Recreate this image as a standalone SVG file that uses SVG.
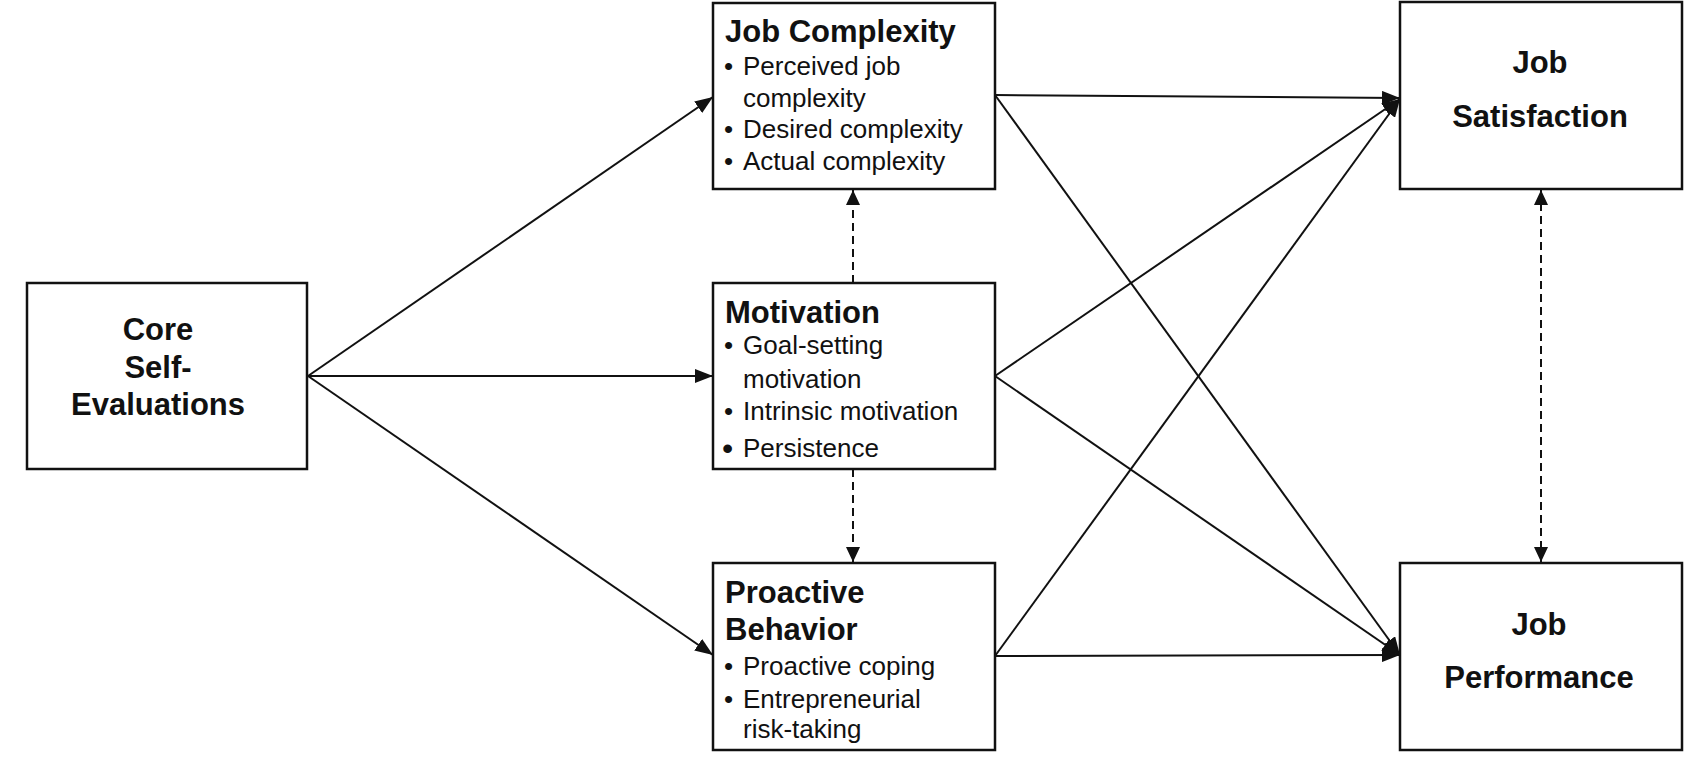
<svg xmlns="http://www.w3.org/2000/svg" width="1702" height="762" viewBox="0 0 1702 762">
  <style>
    .box { fill: #ffffff; stroke: #111111; stroke-width: 2.5; }
    .title { font-family: "Liberation Sans", Arial, sans-serif; font-weight: bold; font-size: 31px; fill: #111111; }
    .item { font-family: "Liberation Sans", Arial, sans-serif; font-size: 26px; fill: #111111; }
    .conn { stroke: #111111; stroke-width: 2; fill: none; }
    .dash { stroke-dasharray: 8 5; }
  </style>
  <defs>
    <marker id="arrow" viewBox="0 0 18 14" refX="18" refY="7" markerWidth="18" markerHeight="14" markerUnits="userSpaceOnUse" orient="auto">
      <path d="M0,0 L18,7 L0,14 z" fill="#111111"/>
    </marker>
    <marker id="arrowSmall" viewBox="0 0 15 14" refX="15" refY="7" markerWidth="15" markerHeight="14" markerUnits="userSpaceOnUse" orient="auto-start-reverse">
      <path d="M0,0 L15,7 L0,14 z" fill="#111111"/>
    </marker>
  </defs>
  <rect width="1702" height="762" fill="#ffffff"/>

  <g id="connectors">
    <line class="conn" x1="308" y1="376" x2="713" y2="97" marker-end="url(#arrow)"/>
    <line class="conn" x1="308" y1="376" x2="713" y2="376" marker-end="url(#arrow)"/>
    <line class="conn" x1="308" y1="376" x2="713" y2="655" marker-end="url(#arrow)"/>
    <line class="conn dash" x1="853" y1="283" x2="853" y2="190" marker-end="url(#arrowSmall)"/>
    <line class="conn dash" x1="853" y1="469" x2="853" y2="562" marker-end="url(#arrowSmall)"/>
    <line class="conn" x1="995" y1="95" x2="1400" y2="98" marker-end="url(#arrow)"/>
    <line class="conn" x1="995" y1="95" x2="1400" y2="655" marker-end="url(#arrow)"/>
    <line class="conn" x1="995" y1="376" x2="1400" y2="99" marker-end="url(#arrow)"/>
    <line class="conn" x1="995" y1="376" x2="1400" y2="655" marker-end="url(#arrow)"/>
    <line class="conn" x1="995" y1="656" x2="1400" y2="99" marker-end="url(#arrow)"/>
    <line class="conn" x1="995" y1="656" x2="1400" y2="655" marker-end="url(#arrow)"/>
    <line class="conn dash" x1="1541" y1="190" x2="1541" y2="562" marker-start="url(#arrowSmall)" marker-end="url(#arrowSmall)"/>
  </g>

  <g id="core">
    <rect class="box" x="27" y="283" width="280" height="186"/>
    <text class="title" x="158" y="340" text-anchor="middle">Core</text>
    <text class="title" x="158" y="378" text-anchor="middle">Self-</text>
    <text class="title" x="158" y="415" text-anchor="middle">Evaluations</text>
  </g>

  <g id="job-complexity">
    <rect class="box" x="713" y="3" width="282" height="186"/>
    <text class="title" x="725" y="42">Job Complexity</text>
    <text class="item" x="724" y="75">•</text>
    <text class="item" x="743" y="75">Perceived job</text>
    <text class="item" x="743" y="107">complexity</text>
    <text class="item" x="724" y="138">•</text>
    <text class="item" x="743" y="138">Desired complexity</text>
    <text class="item" x="724" y="170">•</text>
    <text class="item" x="743" y="170">Actual complexity</text>
  </g>

  <g id="motivation">
    <rect class="box" x="713" y="283" width="282" height="186"/>
    <text class="title" x="725" y="323">Motivation</text>
    <text class="item" x="724" y="354">•</text>
    <text class="item" x="743" y="354">Goal-setting</text>
    <text class="item" x="743" y="388">motivation</text>
    <text class="item" x="724" y="420">•</text>
    <text class="item" x="743" y="420">Intrinsic motivation</text>
    <text class="item" x="722" y="459" style="font-size:32px">•</text>
    <text class="item" x="743" y="457">Persistence</text>
  </g>

  <g id="proactive-behavior">
    <rect class="box" x="713" y="563" width="282" height="187"/>
    <text class="title" x="725" y="603">Proactive</text>
    <text class="title" x="725" y="640">Behavior</text>
    <text class="item" x="724" y="675">•</text>
    <text class="item" x="743" y="675">Proactive coping</text>
    <text class="item" x="724" y="708">•</text>
    <text class="item" x="743" y="708">Entrepreneurial</text>
    <text class="item" x="743" y="738">risk-taking</text>
  </g>

  <g id="job-satisfaction">
    <rect class="box" x="1400" y="2" width="282" height="187"/>
    <text class="title" x="1540" y="73" text-anchor="middle">Job</text>
    <text class="title" x="1540" y="127" text-anchor="middle">Satisfaction</text>
  </g>

  <g id="job-performance">
    <rect class="box" x="1400" y="563" width="282" height="187"/>
    <text class="title" x="1539" y="635" text-anchor="middle">Job</text>
    <text class="title" x="1539" y="688" text-anchor="middle">Performance</text>
  </g>
</svg>
